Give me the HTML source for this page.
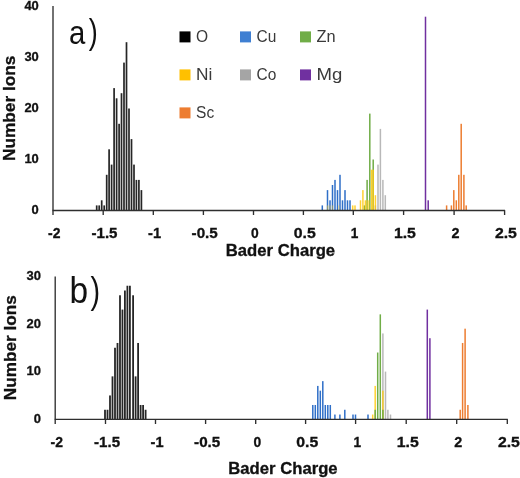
<!DOCTYPE html>
<html><head><meta charset="utf-8"><title>Bader Charge</title>
<style>html,body{margin:0;padding:0;background:#fff}svg{display:block}text{font-family:"Liberation Sans",sans-serif}</style></head><body>
<svg width="520" height="478" viewBox="0 0 520 478">
<rect width="520" height="478" fill="#fff"/>
<rect x="95.85" y="205.40" width="1.7" height="5.10" fill="#262626"/>
<rect x="98.35" y="205.40" width="1.7" height="5.10" fill="#262626"/>
<rect x="100.85" y="200.30" width="1.7" height="10.20" fill="#262626"/>
<rect x="103.35" y="205.40" width="1.7" height="5.10" fill="#262626"/>
<rect x="105.85" y="174.80" width="1.7" height="35.70" fill="#262626"/>
<rect x="108.25" y="149.30" width="1.7" height="61.20" fill="#262626"/>
<rect x="110.75" y="164.60" width="1.7" height="45.90" fill="#262626"/>
<rect x="113.25" y="88.10" width="1.7" height="122.40" fill="#262626"/>
<rect x="115.75" y="98.30" width="1.7" height="112.20" fill="#262626"/>
<rect x="118.25" y="123.80" width="1.7" height="86.70" fill="#262626"/>
<rect x="120.65" y="93.20" width="1.7" height="117.30" fill="#262626"/>
<rect x="123.15" y="62.60" width="1.7" height="147.90" fill="#262626"/>
<rect x="125.65" y="42.20" width="1.7" height="168.30" fill="#262626"/>
<rect x="128.15" y="108.50" width="1.7" height="102.00" fill="#262626"/>
<rect x="130.65" y="139.10" width="1.7" height="71.40" fill="#262626"/>
<rect x="133.15" y="164.60" width="1.7" height="45.90" fill="#262626"/>
<rect x="135.55" y="179.90" width="1.7" height="30.60" fill="#262626"/>
<rect x="138.05" y="179.90" width="1.7" height="30.60" fill="#262626"/>
<rect x="140.55" y="190.10" width="1.7" height="20.40" fill="#262626"/>
<rect x="321.55" y="205.40" width="1.5" height="5.10" fill="#2f6fc8"/>
<rect x="326.75" y="190.10" width="1.5" height="20.40" fill="#2f6fc8"/>
<rect x="329.25" y="200.30" width="1.5" height="10.20" fill="#2f6fc8"/>
<rect x="331.75" y="185.00" width="1.5" height="25.50" fill="#2f6fc8"/>
<rect x="334.25" y="179.90" width="1.5" height="30.60" fill="#2f6fc8"/>
<rect x="336.75" y="190.10" width="1.5" height="20.40" fill="#2f6fc8"/>
<rect x="339.25" y="174.80" width="1.5" height="35.70" fill="#2f6fc8"/>
<rect x="341.75" y="200.30" width="1.5" height="10.20" fill="#2f6fc8"/>
<rect x="344.25" y="190.10" width="1.5" height="20.40" fill="#2f6fc8"/>
<rect x="346.75" y="200.30" width="1.5" height="10.20" fill="#2f6fc8"/>
<rect x="349.25" y="200.30" width="1.5" height="10.20" fill="#2f6fc8"/>
<rect x="363.65" y="205.40" width="1.5" height="5.10" fill="#70ad47"/>
<rect x="366.35" y="179.90" width="1.5" height="30.60" fill="#70ad47"/>
<rect x="369.05" y="113.60" width="1.5" height="96.90" fill="#70ad47"/>
<rect x="372.45" y="159.50" width="1.5" height="51.00" fill="#70ad47"/>
<rect x="374.65" y="205.40" width="1.5" height="5.10" fill="#b8b8b8"/>
<rect x="377.25" y="164.60" width="1.5" height="45.90" fill="#b8b8b8"/>
<rect x="379.65" y="128.90" width="1.5" height="81.60" fill="#b8b8b8"/>
<rect x="382.15" y="179.90" width="1.5" height="30.60" fill="#b8b8b8"/>
<rect x="384.55" y="195.20" width="1.5" height="15.30" fill="#b8b8b8"/>
<rect x="327.10" y="205.40" width="1.2" height="5.10" fill="#ffc90e" fill-opacity="0.5"/>
<rect x="329.50" y="205.40" width="1.2" height="5.10" fill="#ffc90e" fill-opacity="0.4"/>
<rect x="332.00" y="205.40" width="1.2" height="5.10" fill="#ffc90e" fill-opacity="0.4"/>
<rect x="338.20" y="205.40" width="1.2" height="5.10" fill="#ffc90e" fill-opacity="0.4"/>
<rect x="351.95" y="205.40" width="1.5" height="5.10" fill="#ffc90e" fill-opacity="0.85"/>
<rect x="354.25" y="205.40" width="1.5" height="5.10" fill="#ffc90e" fill-opacity="0.85"/>
<rect x="359.75" y="200.30" width="1.5" height="10.20" fill="#ffc90e" fill-opacity="0.85"/>
<rect x="362.15" y="190.10" width="1.5" height="20.40" fill="#ffc90e" fill-opacity="0.85"/>
<rect x="364.65" y="200.30" width="1.5" height="10.20" fill="#ffc90e" fill-opacity="0.85"/>
<rect x="366.55" y="200.30" width="1.5" height="10.20" fill="#ffc90e" fill-opacity="0.6"/>
<rect x="368.05" y="200.30" width="1.5" height="10.20" fill="#ffc90e" fill-opacity="0.6"/>
<rect x="370.85" y="169.70" width="1.5" height="40.80" fill="#ffc90e" fill-opacity="0.85"/>
<rect x="372.45" y="169.70" width="1.5" height="40.80" fill="#ffc90e" fill-opacity="0.85"/>
<rect x="374.65" y="195.20" width="1.5" height="15.30" fill="#ffc90e" fill-opacity="0.85"/>
<rect x="424.75" y="16.70" width="1.5" height="193.80" fill="#7030a0"/>
<rect x="427.45" y="200.30" width="1.5" height="10.20" fill="#7030a0"/>
<rect x="445.85" y="205.40" width="1.5" height="5.10" fill="#ed7d31"/>
<rect x="450.65" y="205.40" width="1.5" height="5.10" fill="#ed7d31"/>
<rect x="453.05" y="190.10" width="1.5" height="20.40" fill="#ed7d31"/>
<rect x="455.55" y="200.30" width="1.5" height="10.20" fill="#ed7d31"/>
<rect x="458.05" y="174.80" width="1.5" height="35.70" fill="#ed7d31"/>
<rect x="460.45" y="123.80" width="1.5" height="86.70" fill="#ed7d31"/>
<rect x="463.15" y="174.80" width="1.5" height="35.70" fill="#ed7d31"/>
<rect x="465.45" y="205.40" width="1.5" height="5.10" fill="#ed7d31"/>
<rect x="104.10" y="409.76" width="1.8" height="9.54" fill="#262626"/>
<rect x="106.60" y="409.76" width="1.8" height="9.54" fill="#262626"/>
<rect x="109.10" y="395.45" width="1.8" height="23.85" fill="#262626"/>
<rect x="111.60" y="376.37" width="1.8" height="42.93" fill="#262626"/>
<rect x="114.10" y="347.75" width="1.8" height="71.55" fill="#262626"/>
<rect x="116.60" y="342.98" width="1.8" height="76.32" fill="#262626"/>
<rect x="119.10" y="295.28" width="1.8" height="124.02" fill="#262626"/>
<rect x="121.55" y="309.59" width="1.8" height="109.71" fill="#262626"/>
<rect x="124.00" y="290.51" width="1.8" height="128.79" fill="#262626"/>
<rect x="126.50" y="285.74" width="1.8" height="133.56" fill="#262626"/>
<rect x="129.00" y="285.74" width="1.8" height="133.56" fill="#262626"/>
<rect x="132.20" y="295.28" width="1.8" height="124.02" fill="#262626"/>
<rect x="134.70" y="376.37" width="1.8" height="42.93" fill="#262626"/>
<rect x="137.20" y="342.98" width="1.8" height="76.32" fill="#262626"/>
<rect x="139.70" y="404.99" width="1.8" height="14.31" fill="#262626"/>
<rect x="142.20" y="404.99" width="1.8" height="14.31" fill="#262626"/>
<rect x="144.70" y="409.76" width="1.8" height="9.54" fill="#262626"/>
<rect x="312.05" y="404.99" width="1.5" height="14.31" fill="#2f6fc8"/>
<rect x="314.55" y="404.99" width="1.5" height="14.31" fill="#2f6fc8"/>
<rect x="317.05" y="385.91" width="1.5" height="33.39" fill="#2f6fc8"/>
<rect x="319.55" y="390.68" width="1.5" height="28.62" fill="#2f6fc8"/>
<rect x="322.05" y="381.14" width="1.5" height="38.16" fill="#2f6fc8"/>
<rect x="324.55" y="404.99" width="1.5" height="14.31" fill="#2f6fc8"/>
<rect x="327.05" y="404.99" width="1.5" height="14.31" fill="#2f6fc8"/>
<rect x="329.55" y="404.99" width="1.5" height="14.31" fill="#2f6fc8"/>
<rect x="334.15" y="414.53" width="1.5" height="4.77" fill="#2f6fc8"/>
<rect x="339.15" y="414.53" width="1.5" height="4.77" fill="#2f6fc8"/>
<rect x="344.05" y="409.76" width="1.5" height="9.54" fill="#2f6fc8"/>
<rect x="352.25" y="414.53" width="1.5" height="4.77" fill="#2f6fc8"/>
<rect x="354.75" y="414.53" width="1.5" height="4.77" fill="#2f6fc8"/>
<rect x="367.25" y="414.53" width="1.5" height="4.77" fill="#2f6fc8"/>
<rect x="382.15" y="333.44" width="1.5" height="85.86" fill="#b8b8b8"/>
<rect x="384.75" y="371.60" width="1.5" height="47.70" fill="#b8b8b8"/>
<rect x="387.15" y="409.76" width="1.5" height="9.54" fill="#b8b8b8"/>
<rect x="389.75" y="414.53" width="1.5" height="4.77" fill="#b8b8b8"/>
<rect x="371.95" y="414.53" width="1.5" height="4.77" fill="#ffc90e" fill-opacity="0.85"/>
<rect x="374.45" y="385.91" width="1.5" height="33.39" fill="#ffc90e" fill-opacity="0.85"/>
<rect x="382.15" y="390.68" width="1.5" height="28.62" fill="#ffc90e" fill-opacity="0.85"/>
<rect x="374.45" y="409.76" width="1.5" height="9.54" fill="#70ad47"/>
<rect x="376.95" y="352.52" width="1.5" height="66.78" fill="#70ad47"/>
<rect x="379.55" y="314.36" width="1.5" height="104.94" fill="#70ad47"/>
<rect x="382.15" y="409.76" width="1.5" height="9.54" fill="#70ad47"/>
<rect x="426.55" y="309.59" width="1.5" height="109.71" fill="#7030a0"/>
<rect x="429.15" y="338.21" width="1.5" height="81.09" fill="#7030a0"/>
<rect x="459.45" y="409.76" width="1.5" height="9.54" fill="#ed7d31"/>
<rect x="461.85" y="342.98" width="1.5" height="76.32" fill="#ed7d31"/>
<rect x="464.35" y="328.67" width="1.5" height="90.63" fill="#ed7d31"/>
<rect x="467.15" y="404.99" width="1.5" height="14.31" fill="#ed7d31"/>
<path d="M53 6V215.1" stroke="#2e2e2e" stroke-width="1.35" fill="none"/>
<path d="M52.5 210.5H505.1" stroke="#2e2e2e" stroke-width="1.35" fill="none"/>
<path d="M103.2 210.5v4.6M153.3 210.5v4.6M203.4 210.5v4.6M253.5 210.5v4.6M303.4 210.5v4.6M353.3 210.5v4.6M403.6 210.5v4.6M454.1 210.5v4.6M504.6 210.5v4.6" stroke="#2e2e2e" stroke-width="1.35" fill="none"/>
<path d="M55.2 276.5V423.90000000000003" stroke="#2e2e2e" stroke-width="1.35" fill="none"/>
<path d="M54.7 419.3H507.8" stroke="#2e2e2e" stroke-width="1.35" fill="none"/>
<path d="M105.5 419.3v4.6M155.5 419.3v4.6M205.6 419.3v4.6M255.7 419.3v4.6M305.6 419.3v4.6M355.6 419.3v4.6M406.2 419.3v4.6M456.7 419.3v4.6M507.3 419.3v4.6" stroke="#2e2e2e" stroke-width="1.35" fill="none"/>
<text x="54.3" y="238.4" font-size="14" font-weight="bold" fill="#111" text-anchor="middle" textLength="12.4" lengthAdjust="spacingAndGlyphs" stroke="#111" stroke-width="0.3">-2</text>
<text x="104.5" y="238.4" font-size="14" font-weight="bold" fill="#111" text-anchor="middle" textLength="26" lengthAdjust="spacingAndGlyphs" stroke="#111" stroke-width="0.3">-1.5</text>
<text x="154.60000000000002" y="238.4" font-size="14" font-weight="bold" fill="#111" text-anchor="middle" textLength="13" lengthAdjust="spacingAndGlyphs" stroke="#111" stroke-width="0.3">-1</text>
<text x="204.70000000000002" y="238.4" font-size="14" font-weight="bold" fill="#111" text-anchor="middle" textLength="26.2" lengthAdjust="spacingAndGlyphs" stroke="#111" stroke-width="0.3">-0.5</text>
<text x="254.8" y="238.4" font-size="14" font-weight="bold" fill="#111" text-anchor="middle" textLength="7.7" lengthAdjust="spacingAndGlyphs" stroke="#111" stroke-width="0.3">0</text>
<text x="304.7" y="238.4" font-size="14" font-weight="bold" fill="#111" text-anchor="middle" textLength="22" lengthAdjust="spacingAndGlyphs" stroke="#111" stroke-width="0.3">0.5</text>
<text x="354.6" y="238.4" font-size="14" font-weight="bold" fill="#111" text-anchor="middle" textLength="7.6" lengthAdjust="spacingAndGlyphs" stroke="#111" stroke-width="0.3">1</text>
<text x="404.90000000000003" y="238.4" font-size="14" font-weight="bold" fill="#111" text-anchor="middle" textLength="22" lengthAdjust="spacingAndGlyphs" stroke="#111" stroke-width="0.3">1.5</text>
<text x="455.40000000000003" y="238.4" font-size="14" font-weight="bold" fill="#111" text-anchor="middle" textLength="8" lengthAdjust="spacingAndGlyphs" stroke="#111" stroke-width="0.3">2</text>
<text x="505.90000000000003" y="238.4" font-size="14" font-weight="bold" fill="#111" text-anchor="middle" textLength="22" lengthAdjust="spacingAndGlyphs" stroke="#111" stroke-width="0.3">2.5</text>
<text x="56.800000000000004" y="447" font-size="14" font-weight="bold" fill="#111" text-anchor="middle" textLength="12.4" lengthAdjust="spacingAndGlyphs" stroke="#111" stroke-width="0.3">-2</text>
<text x="107.1" y="447" font-size="14" font-weight="bold" fill="#111" text-anchor="middle" textLength="26" lengthAdjust="spacingAndGlyphs" stroke="#111" stroke-width="0.3">-1.5</text>
<text x="157.1" y="447" font-size="14" font-weight="bold" fill="#111" text-anchor="middle" textLength="13" lengthAdjust="spacingAndGlyphs" stroke="#111" stroke-width="0.3">-1</text>
<text x="207.2" y="447" font-size="14" font-weight="bold" fill="#111" text-anchor="middle" textLength="26.2" lengthAdjust="spacingAndGlyphs" stroke="#111" stroke-width="0.3">-0.5</text>
<text x="257.3" y="447" font-size="14" font-weight="bold" fill="#111" text-anchor="middle" textLength="7.7" lengthAdjust="spacingAndGlyphs" stroke="#111" stroke-width="0.3">0</text>
<text x="307.20000000000005" y="447" font-size="14" font-weight="bold" fill="#111" text-anchor="middle" textLength="22" lengthAdjust="spacingAndGlyphs" stroke="#111" stroke-width="0.3">0.5</text>
<text x="357.20000000000005" y="447" font-size="14" font-weight="bold" fill="#111" text-anchor="middle" textLength="7.6" lengthAdjust="spacingAndGlyphs" stroke="#111" stroke-width="0.3">1</text>
<text x="407.8" y="447" font-size="14" font-weight="bold" fill="#111" text-anchor="middle" textLength="22" lengthAdjust="spacingAndGlyphs" stroke="#111" stroke-width="0.3">1.5</text>
<text x="458.3" y="447" font-size="14" font-weight="bold" fill="#111" text-anchor="middle" textLength="8" lengthAdjust="spacingAndGlyphs" stroke="#111" stroke-width="0.3">2</text>
<text x="508.90000000000003" y="447" font-size="14" font-weight="bold" fill="#111" text-anchor="middle" textLength="22" lengthAdjust="spacingAndGlyphs" stroke="#111" stroke-width="0.3">2.5</text>
<text x="38.8" y="10.0" font-size="12.8" font-weight="bold" fill="#111" text-anchor="end" textLength="14.4" lengthAdjust="spacingAndGlyphs" stroke="#111" stroke-width="0.3">40</text>
<text x="38.8" y="61.1" font-size="12.8" font-weight="bold" fill="#111" text-anchor="end" textLength="14.4" lengthAdjust="spacingAndGlyphs" stroke="#111" stroke-width="0.3">30</text>
<text x="38.8" y="112.1" font-size="12.8" font-weight="bold" fill="#111" text-anchor="end" textLength="14.4" lengthAdjust="spacingAndGlyphs" stroke="#111" stroke-width="0.3">20</text>
<text x="38.8" y="163.1" font-size="12.8" font-weight="bold" fill="#111" text-anchor="end" textLength="14.4" lengthAdjust="spacingAndGlyphs" stroke="#111" stroke-width="0.3">10</text>
<text x="38.8" y="214.1" font-size="12.8" font-weight="bold" fill="#111" text-anchor="end" textLength="7.2" lengthAdjust="spacingAndGlyphs" stroke="#111" stroke-width="0.3">0</text>
<text x="41" y="279.90000000000003" font-size="12.8" font-weight="bold" fill="#111" text-anchor="end" textLength="14.4" lengthAdjust="spacingAndGlyphs" stroke="#111" stroke-width="0.3">30</text>
<text x="41" y="327.6" font-size="12.8" font-weight="bold" fill="#111" text-anchor="end" textLength="14.4" lengthAdjust="spacingAndGlyphs" stroke="#111" stroke-width="0.3">20</text>
<text x="41" y="375.3" font-size="12.8" font-weight="bold" fill="#111" text-anchor="end" textLength="14.4" lengthAdjust="spacingAndGlyphs" stroke="#111" stroke-width="0.3">10</text>
<text x="41" y="423.0" font-size="12.8" font-weight="bold" fill="#111" text-anchor="end" textLength="7.2" lengthAdjust="spacingAndGlyphs" stroke="#111" stroke-width="0.3">0</text>
<text x="225.8" y="256.3" font-size="16.3" font-weight="bold" fill="#111" text-anchor="start" textLength="109.3" lengthAdjust="spacingAndGlyphs" stroke="#111" stroke-width="0.3">Bader Charge</text>
<text x="228.3" y="473.8" font-size="16.3" font-weight="bold" fill="#111" text-anchor="start" textLength="109.3" lengthAdjust="spacingAndGlyphs" stroke="#111" stroke-width="0.3">Bader Charge</text>
<text x="0" y="0" font-size="16.3" font-weight="bold" fill="#111" text-anchor="start" textLength="105.4" lengthAdjust="spacingAndGlyphs" stroke="#111" stroke-width="0.3" transform="translate(14.6 161) rotate(-90)">Number Ions</text>
<text x="0" y="0" font-size="16.3" font-weight="bold" fill="#111" text-anchor="start" textLength="105" lengthAdjust="spacingAndGlyphs" stroke="#111" stroke-width="0.3" transform="translate(16.3 400.2) rotate(-90)">Number Ions</text>
<text fill="#111"><tspan x="68.9" y="43.9" font-size="32.8" textLength="16.3" lengthAdjust="spacingAndGlyphs">a</tspan><tspan x="88.7" y="43.6" font-size="35.5" textLength="9" lengthAdjust="spacingAndGlyphs">)</tspan></text>
<text fill="#111"><tspan x="69.5" y="303.2" font-size="36" textLength="18.6" lengthAdjust="spacingAndGlyphs">b</tspan><tspan x="90.6" y="302.5" font-size="36" textLength="9.6" lengthAdjust="spacingAndGlyphs">)</tspan></text>
<rect x="179.5" y="31.4" width="11" height="11" fill="#000"/>
<text x="196.1" y="42.4" font-size="16.3" font-weight="normal" fill="#3a3a3a" text-anchor="start" textLength="12.1" lengthAdjust="spacingAndGlyphs">O</text>
<rect x="240" y="31.4" width="11" height="11" fill="#3f7fd2"/>
<text x="256.6" y="42.4" font-size="16.3" font-weight="normal" fill="#3a3a3a" text-anchor="start" textLength="19.8" lengthAdjust="spacingAndGlyphs">Cu</text>
<rect x="300" y="31.4" width="11" height="11" fill="#70ad47"/>
<text x="316.6" y="42.4" font-size="16.3" font-weight="normal" fill="#3a3a3a" text-anchor="start" textLength="19.1" lengthAdjust="spacingAndGlyphs">Zn</text>
<rect x="179.5" y="69.4" width="11" height="11" fill="#ffc000"/>
<text x="196.1" y="80.4" font-size="16.3" font-weight="normal" fill="#3a3a3a" text-anchor="start" textLength="16.3" lengthAdjust="spacingAndGlyphs">Ni</text>
<rect x="240" y="69.4" width="11" height="11" fill="#a5a5a5"/>
<text x="256.6" y="80.4" font-size="16.3" font-weight="normal" fill="#3a3a3a" text-anchor="start" textLength="19.8" lengthAdjust="spacingAndGlyphs">Co</text>
<rect x="300" y="69.4" width="11" height="11" fill="#7030a0"/>
<text x="316.6" y="80.4" font-size="16.3" font-weight="normal" fill="#3a3a3a" text-anchor="start" textLength="25.8" lengthAdjust="spacingAndGlyphs">Mg</text>
<rect x="179.5" y="107.4" width="11" height="11" fill="#ed7d31"/>
<text x="196.1" y="118.4" font-size="16.3" font-weight="normal" fill="#3a3a3a" text-anchor="start" textLength="18.1" lengthAdjust="spacingAndGlyphs">Sc</text>
</svg></body></html>
